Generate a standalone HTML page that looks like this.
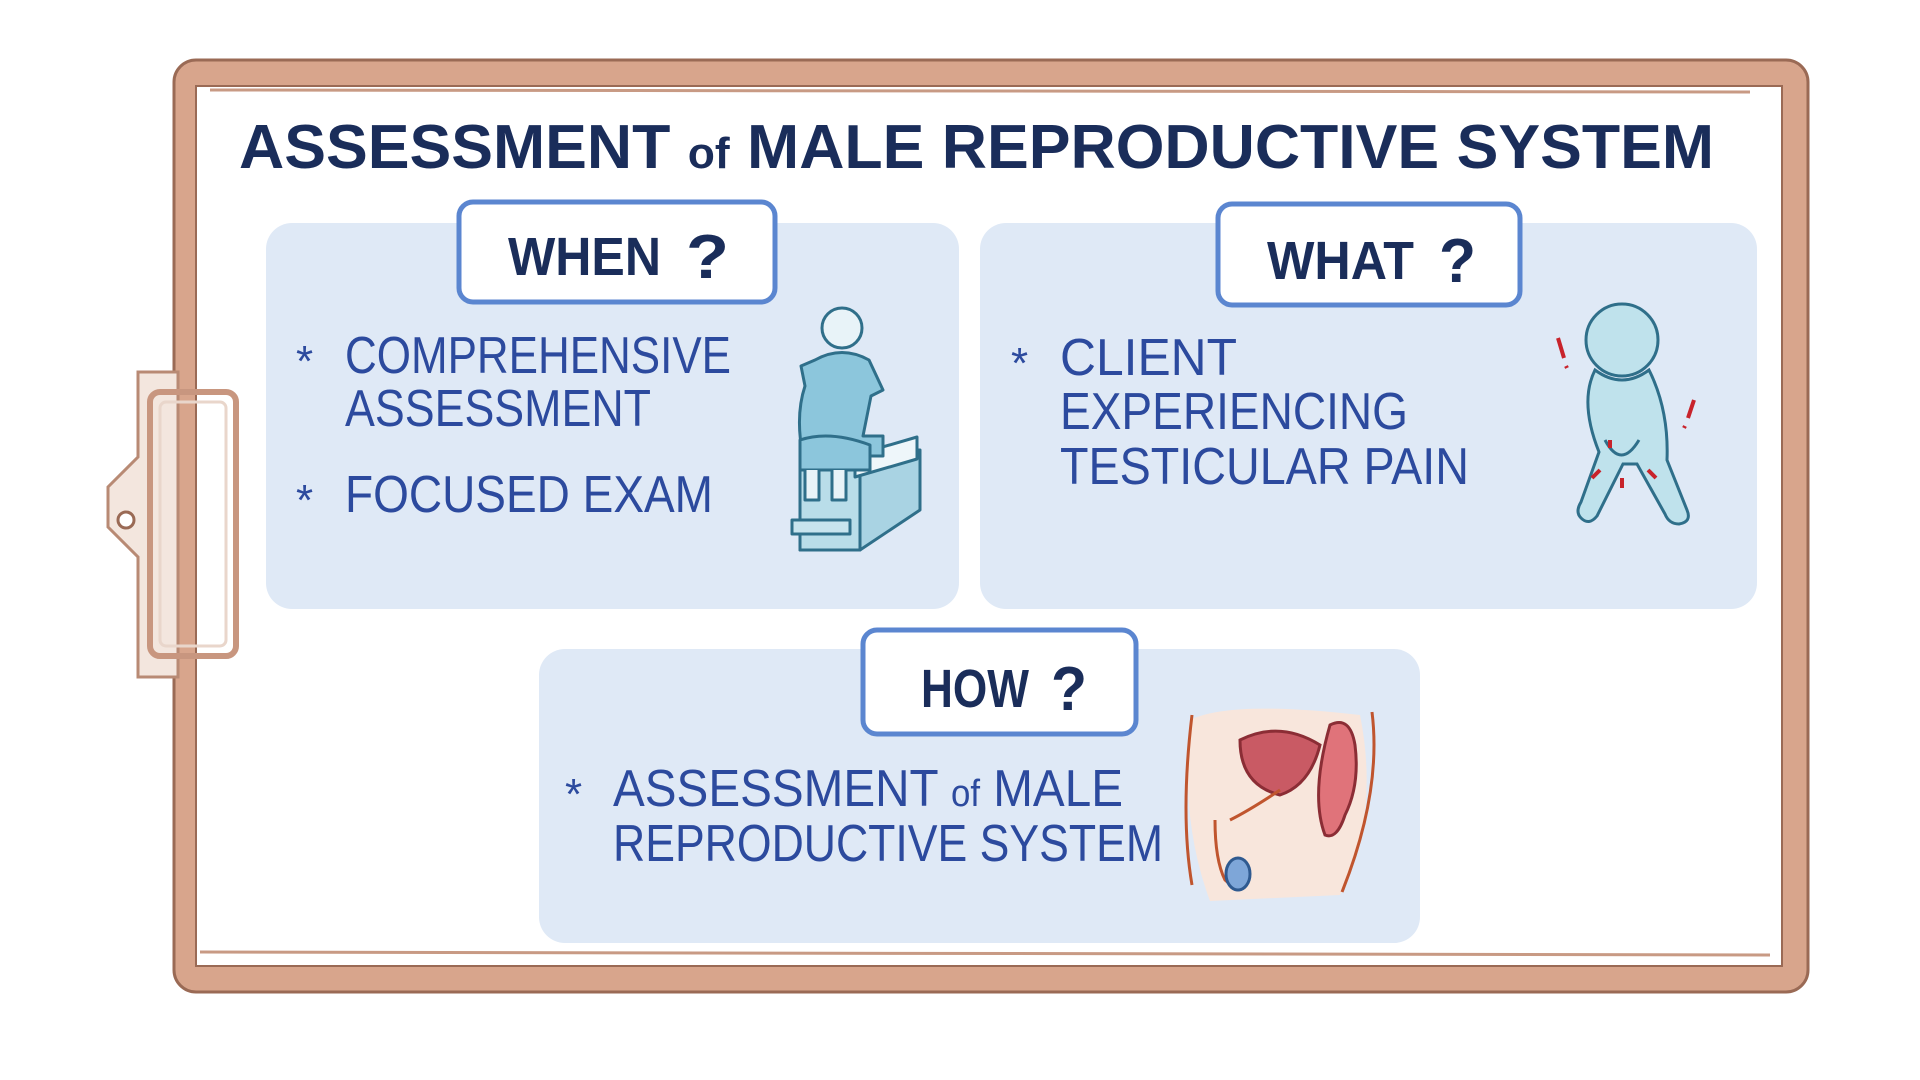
<!DOCTYPE html>
<html><head><meta charset="utf-8"><style>
html,body{margin:0;padding:0;background:#fff;width:1920px;height:1080px;overflow:hidden}
svg{display:block}
text{font-family:"Liberation Sans",sans-serif}
</style></head><body>
<svg width="1920" height="1080" viewBox="0 0 1920 1080" xmlns="http://www.w3.org/2000/svg">
<rect width="1920" height="1080" fill="#fff"/>
<!-- clipboard board -->
<rect x="174" y="60" width="1634" height="932" rx="22" fill="#d8a58c" stroke="#9a6a55" stroke-width="3"/>
<rect x="196" y="86" width="1586" height="880" fill="#fff" stroke="#9a6a55" stroke-width="2"/>
<line x1="210" y1="90" x2="1750" y2="92" stroke="#c89a84" stroke-width="3"/>
<line x1="200" y1="952" x2="1770" y2="955" stroke="#c89a84" stroke-width="3"/>
<!-- clip -->
<path d="M138 372 h40 v305 h-40 v-120 l-30 -30 v-40 l30 -30 z" fill="#f3e6de" stroke="#b88a74" stroke-width="3"/>
<circle cx="126" cy="520" r="8" fill="#fff" stroke="#9a6a55" stroke-width="3"/>
<rect x="150" y="392" width="86" height="264" rx="10" fill="none" stroke="#c8967f" stroke-width="6"/>
<rect x="160" y="402" width="66" height="244" rx="6" fill="none" stroke="#e9d6cb" stroke-width="3"/>
<!-- title -->
<text x="239" y="168" font-size="62" font-weight="bold" fill="#1a2d5a" textLength="1475" lengthAdjust="spacingAndGlyphs">ASSESSMENT <tspan font-size="44">of</tspan> MALE REPRODUCTIVE SYSTEM</text>
<!-- panels -->
<rect x="266" y="223" width="693" height="386" rx="26" fill="#dfe9f6"/>
<rect x="980" y="223" width="777" height="386" rx="26" fill="#dfe9f6"/>
<rect x="539" y="649" width="881" height="294" rx="26" fill="#dfe9f6"/>
<!-- label boxes -->
<rect x="459" y="202" width="316" height="100" rx="14" fill="#fff" stroke="#5b86d0" stroke-width="5"/>
<text x="508" y="275" font-size="54" font-weight="bold" fill="#1a2d5a" textLength="153" lengthAdjust="spacingAndGlyphs">WHEN</text>
<text x="686" y="278" font-size="62" font-weight="bold" fill="#1a2d5a" textLength="43" lengthAdjust="spacingAndGlyphs">?</text>
<rect x="1218" y="204" width="302" height="101" rx="14" fill="#fff" stroke="#5b86d0" stroke-width="5"/>
<text x="1267" y="279" font-size="54" font-weight="bold" fill="#1a2d5a" textLength="147" lengthAdjust="spacingAndGlyphs">WHAT</text>
<text x="1439" y="282" font-size="62" font-weight="bold" fill="#1a2d5a" textLength="37" lengthAdjust="spacingAndGlyphs">?</text>
<rect x="863" y="630" width="273" height="104" rx="14" fill="#fff" stroke="#5b86d0" stroke-width="5"/>
<text x="921" y="707" font-size="54" font-weight="bold" fill="#1a2d5a" textLength="108" lengthAdjust="spacingAndGlyphs">HOW</text>
<text x="1051" y="710" font-size="62" font-weight="bold" fill="#1a2d5a" textLength="36" lengthAdjust="spacingAndGlyphs">?</text>
<!-- body text -->
<g fill="#2c4a9e" font-size="52">
<text x="296" y="376" font-size="44">*</text>
<text x="345" y="373" textLength="386" lengthAdjust="spacingAndGlyphs">COMPREHENSIVE</text>
<text x="345" y="426" textLength="306" lengthAdjust="spacingAndGlyphs">ASSESSMENT</text>
<text x="296" y="515" font-size="44">*</text>
<text x="345" y="512" textLength="368" lengthAdjust="spacingAndGlyphs">FOCUSED EXAM</text>
<text x="1011" y="378" font-size="44">*</text>
<text x="1060" y="375" textLength="177" lengthAdjust="spacingAndGlyphs">CLIENT</text>
<text x="1060" y="429" textLength="348" lengthAdjust="spacingAndGlyphs">EXPERIENCING</text>
<text x="1060" y="484" textLength="409" lengthAdjust="spacingAndGlyphs">TESTICULAR PAIN</text>
<text x="565" y="809" font-size="44">*</text>
<text x="613" y="806" textLength="510" lengthAdjust="spacingAndGlyphs">ASSESSMENT <tspan font-size="38">of</tspan> MALE</text>
<text x="613" y="861" textLength="550" lengthAdjust="spacingAndGlyphs">REPRODUCTIVE SYSTEM</text>
</g>
<!-- patient on exam table -->
<g stroke="#2f6f8a" stroke-width="3" stroke-linejoin="round">
<path d="M800 470 l60 -20 h60 v60 l-60 40 h-60 z" fill="#a9d3e3"/>
<path d="M800 470 h60 v80 h-60 z" fill="#b9dde9"/>
<path d="M855 455 l62 -18 v22 l-62 18 z" fill="#eef6fa"/>
<path d="M792 520 h58 v14 h-58 z" fill="#c8e4ee"/>
<circle cx="842" cy="328" r="20" fill="#e8f3f8"/>
<path d="M815 360 q27 -15 54 0 l14 30 l-12 6 l-8 40 h20 v20 h-80 q-8 -40 2 -70 l-4 -20 z" fill="#8cc6dc"/>
<path d="M800 440 q30 -10 70 5 v25 h-70 z" fill="#8cc6dc"/>
<path d="M805 470 v30 h14 v-30 M832 470 v30 h14 v-30" fill="#e8f3f8"/>
</g>
<!-- pain figure -->
<g stroke="#2f6f8a" stroke-width="3" fill="#bfe2ec">
<circle cx="1622" cy="340" r="36"/>
<path d="M1595 370 q27 20 54 0 q20 40 18 90 l20 50 q5 12 -8 14 q-10 0 -14 -10 l-28 -50 h-14 l-26 52 q-8 10 -16 2 q-6 -6 0 -16 l18 -50 q-20 -50 -4 -82 z"/>
<path d="M1605 440 q16 30 34 0" fill="none"/>
</g>
<g stroke="#c8232b" stroke-width="4" fill="none">
<path d="M1558 338 l6 20 M1566 366 l1 2"/>
<path d="M1694 400 l-6 18 M1685 426 l-1 2"/>
<path d="M1600 470 l-8 8 M1648 470 l8 8 M1622 478 v10 M1610 440 v8"/>
</g>
<!-- anatomy -->
<g>
<path d="M1190 720 q40 -20 170 -5 q20 100 -20 180 l-130 6 q-30 -80 -20 -181 z" fill="#f8e6dc"/>
<path d="M1240 740 q40 -20 80 5 q-10 40 -40 50 q-40 -10 -40 -55 z" fill="#c95a64" stroke="#8b2d35" stroke-width="3"/>
<path d="M1330 725 q20 -10 25 20 q5 40 -10 70 q-8 25 -20 20 q-15 -40 5 -110 z" fill="#e0737a" stroke="#8b2d35" stroke-width="3"/>
<path d="M1215 820 q0 40 10 60 q10 10 20 0 M1280 790 q-30 20 -50 30" fill="none" stroke="#c0552e" stroke-width="3"/>
<ellipse cx="1238" cy="874" rx="12" ry="16" fill="#7ea6d8" stroke="#2f5a90" stroke-width="3"/>
<path d="M1372 712 q10 80 -30 180" fill="none" stroke="#c0552e" stroke-width="3"/>
<path d="M1192 715 q-12 100 0 170" fill="none" stroke="#c0552e" stroke-width="3"/>
</g>
</svg>
</body></html>
